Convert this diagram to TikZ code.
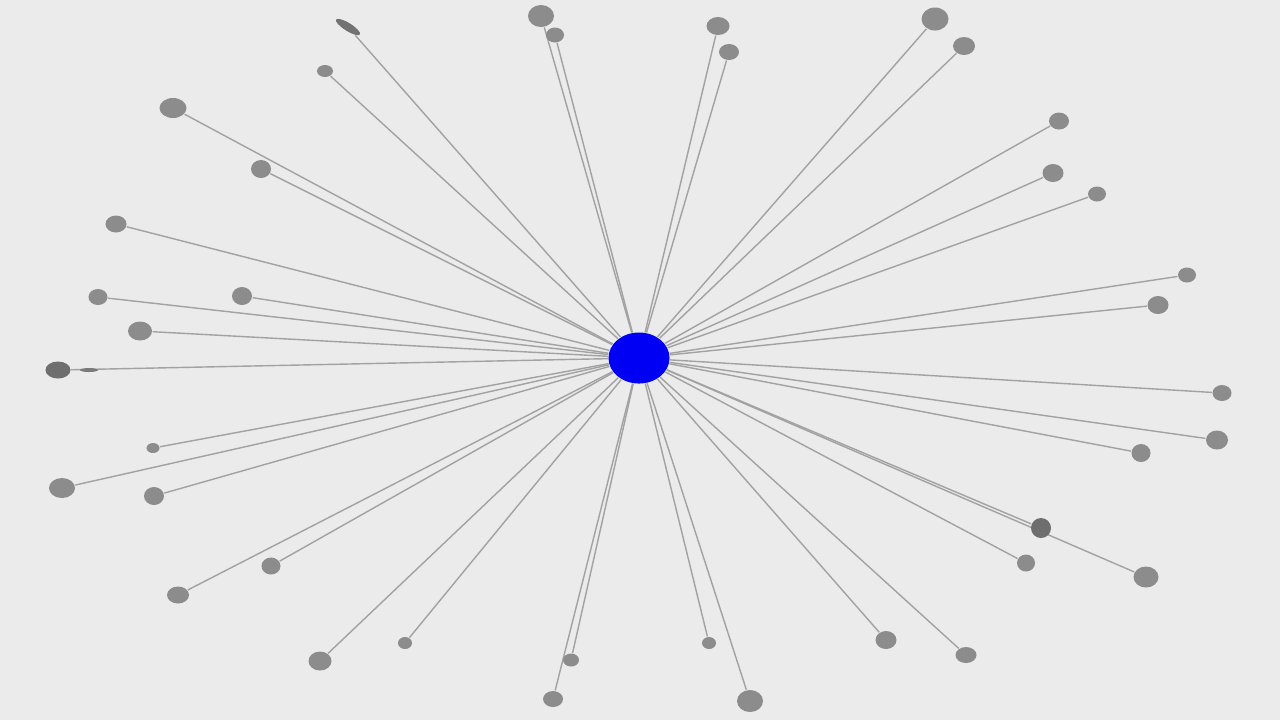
\documentclass[tikz,border=0pt]{standalone}
\usetikzlibrary{shapes.geometric}

\definecolor{canvas}{HTML}{EBEBEB}
\definecolor{leafgray}{HTML}{8C8C8C}
\definecolor{leafdark}{HTML}{6E6E6E}
\definecolor{linkgray}{HTML}{A2A2A2}
\definecolor{hubblue}{RGB}{0,0,245}

\pgfdeclarelayer{paper}
\pgfdeclarelayer{links}
\pgfsetlayers{paper,links,main}

\tikzset{
  leaf/.style={ellipse, inner sep=0pt, fill=leafgray},
  link/.style={linkgray, line width=0.4pt}
}

\begin{document}
\begin{tikzpicture}[x=0.01cm, y=-0.01cm]

  % page background
  \begin{pgfonlayer}{paper}
    \fill[canvas] (0,0) rectangle (1280,720);
  \end{pgfonlayer}

  % hub in the middle
  \node[ellipse, inner sep=0pt, fill=hubblue, minimum width=6.1mm, minimum height=5.1mm] (hub) at (639,358) {};

  % leaves: x / y / width / height (in px)
  \foreach \x/\y/\w/\h [count=\i] in {
      325/71/16/12, 541/16/26/22, 555/35/18/15, 718/26/23/18,
      729/52/20/16, 935/19/27/23, 964/46/22/18, 173/108/27/20,
      261/169/20/18, 1059/121/20/17, 1053/173/21/18, 1097/194/18/15,
      116/224/21/17, 98/297/19/16, 242/296/20/18, 140/331/24/19,
      1187/275/18/15, 1158/305/21/18, 1222/393/19/16, 1217/440/22/19,
      1141/453/19/18, 153/448/13/10, 62/488/26/20, 154/496/20/18,
      178/595/22/17, 271/566/19/17, 320/661/23/19, 405/643/14/12,
      571/660/16/13, 553/699/20/16, 709/643/14/12, 750/701/26/22,
      886/640/21/18, 966/655/21/16, 1026/563/18/17, 1146/577/25/21}
  {
       \node[leaf, minimum width=\w*0.1mm, minimum height=\h*0.1mm] (n\i) at (\x,\y) {};
  }

  % darker leaves
  \node[leaf, fill=leafdark, minimum width=2.5mm, minimum height=1.7mm] (d1) at (58,370) {};
  \node[leaf, fill=leafdark, minimum width=2.0mm, minimum height=2.0mm] (d2) at (1041,528) {};
  \node[leaf, fill=leafdark!85!leafgray, rotate=-32, minimum width=2.8mm, minimum height=0.8mm] (tip) at (348,27) {};
  \node[leaf, fill=leafdark!60!leafgray, minimum width=1.8mm, minimum height=0.4mm] (dash) at (89,370) {};

  % spokes
  \begin{pgfonlayer}{links}
    \foreach \i in {1,...,36}
    {
         \draw[link] (hub) -- (n\i);
    }
    \draw[link] (hub) -- (d1);
    \draw[link] (hub) -- (d2);
    \draw[link] (hub) -- (tip);
  \end{pgfonlayer}

\end{tikzpicture}
\end{document}
